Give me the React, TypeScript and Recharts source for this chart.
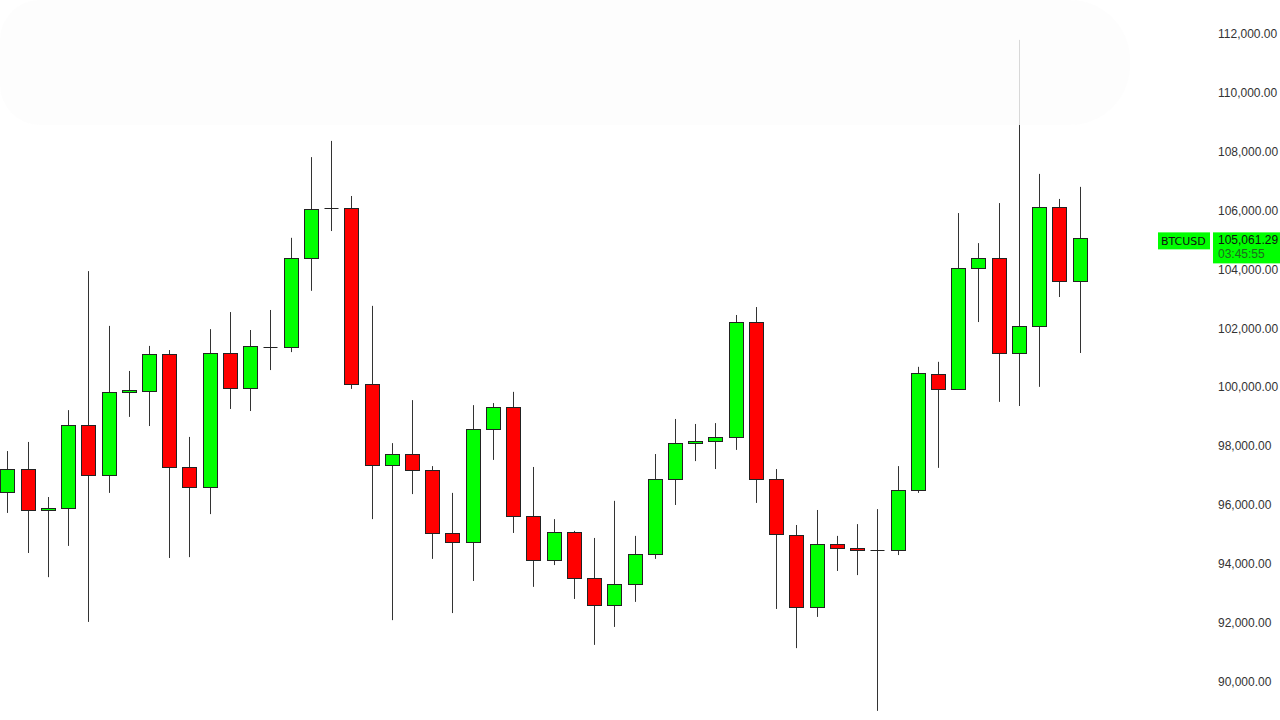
import { ComposedChart, Bar, XAxis, YAxis, ReferenceLine } from "recharts";

const bars = Array.from({ length: 54 }, (_, i) => i);

const opens = [
  96450, 97230, 95840, 95900, 98720, 97030, 99850, 99880, 101140, 97300,
  96620, 101170, 99980, 101380, 101370, 104400, 106080, 106090, 100120, 97370,
  97740, 97200, 95060, 94750, 98590, 99340, 95640, 94140, 95090, 93530,
  92610, 93330, 94350, 96890, 98110, 98180, 98320, 102220, 96890, 95000,
  92550, 94690, 94550, 94480, 94480, 96520, 100460, 99950, 104060, 104400,
  101170, 102090, 106130, 103610,
];
const highs = [
  97840, 98150, 96280, 99230, 103950, 102090, 100560, 101410, 101270, 98320,
  101980, 102560, 101950, 102630, 105080, 107820, 108370, 106500, 102770, 98110,
  99570, 97330, 96420, 99400, 99470, 99850, 97300, 95530, 95130, 94890,
  96150, 94960, 97740, 98930, 98760, 98790, 102460, 102730, 97230, 95330,
  95840, 94960, 95360, 95870, 97330, 100700, 100870, 105920, 104900, 106260,
  111800, 107250, 106400, 106810,
];
const lows = [
  95740, 94380, 93560, 94620, 92040, 96420, 99000, 98690, 94210, 94240,
  95700, 99270, 99200, 100590, 101200, 103280, 105310, 99950, 95530, 92100,
  96380, 94180, 92340, 93430, 97540, 95060, 93230, 93970, 92820, 91260,
  91870, 92720, 94180, 96010, 97500, 97230, 97880, 96080, 92480, 91150,
  92210, 93770, 93630, 89020, 94310, 96420, 97270, 99950, 102220, 99510,
  99370, 100020, 103070, 101170,
];
const closes = [
  97230, 95840, 95900, 98720, 97030, 99850, 99910, 101140, 97300, 96620,
  101170, 99980, 101410, 101380, 104400, 106060, 106080, 100120, 97370, 97740,
  97200, 95060, 94750, 98590, 99340, 95640, 94140, 95090, 93530, 92610,
  93330, 94350, 96890, 98110, 98180, 98320, 102220, 96890, 95030, 92550,
  94690, 94550, 94480, 94480, 96520, 100490, 99950, 104060, 104400, 101170,
  102090, 106130, 103610, 105061.29,
];

const priceTicks = [90000, 92000, 94000, 96000, 98000, 100000, 102000, 104000, 106000, 108000, 110000, 112000];
const symbol = "BTCUSD";
const lastPrice = 105061.29;
const countdown = "03:45:55";

const data = bars.map((i) => ({
  i,
  open: opens[i],
  high: highs[i],
  low: lows[i],
  close: closes[i],
  range: [lows[i], highs[i]],
}));

const fmt = (v: number) =>
  v.toLocaleString("en-US", { minimumFractionDigits: 2, maximumFractionDigits: 2 });

const Candle = (props: any) => {
  const { x, y, width, height, payload } = props;
  const { open, close, high, low } = payload;
  const top0 = height < 0 ? y + height : y;
  const h = Math.abs(height);
  const per = h / (high - low);
  const yOf = (v: number) => top0 + (high - v) * per;
  const cx = Math.round(x + width / 2) + 0.5;
  const bTop = yOf(Math.max(open, close));
  const bBot = yOf(Math.min(open, close));
  const up = close > open;
  return (
    <g>
      <line x1={cx} x2={cx} y1={yOf(high)} y2={yOf(low)} stroke="#333" strokeWidth={1} />
      {open === close ? (
        <line x1={cx - 7} x2={cx + 7} y1={Math.round(bTop) + 0.5} y2={Math.round(bTop) + 0.5} stroke="#222" strokeWidth={1} />
      ) : (
        <rect
          x={cx - 7}
          y={Math.round(bTop) + 0.5}
          width={14}
          height={Math.max(1, Math.round(bBot - bTop))}
          fill={up ? "#00ff00" : "#ff0000"}
          stroke="#222"
          strokeWidth={1}
        />
      )}
    </g>
  );
};

const PriceTick = (props: any) => {
  const { x, y, payload } = props;
  return (
    <text x={x} y={y} dy={4} textAnchor="start" fontFamily="Liberation Sans" fontSize={12} fill="#333">
      {fmt(payload.value)}
    </text>
  );
};

const PriceTag = (props: any) => {
  const { viewBox } = props;
  const right = viewBox.x + viewBox.width;
  const ly = viewBox.y;
  return (
    <g>
      <rect x={right - 42} y={ly - 6} width={52} height={17} fill="#00ff00" />
      <text x={right - 39} y={ly + 7} fontFamily="DejaVu Sans" fontSize={11} fill="#111">
        {symbol}
      </text>
      <rect x={right + 13} y={ly - 6} width={67} height={31} fill="#00ff00" />
      <text x={right + 18} y={ly + 6} fontFamily="Liberation Sans" fontSize={12} fill="#111">
        {fmt(lastPrice)}
      </text>
      <text x={right + 18} y={ly + 20} fontFamily="Liberation Sans" fontSize={12} fill="#1f6b1f">
        {countdown}
      </text>
    </g>
  );
};

export default function App() {
  return (
    <div style={{ position: "absolute", left: 0, top: 0, width: 1280, height: 720, background: "#fff" }}>
      <ComposedChart width={1280} height={720} data={data} margin={{ top: 0, right: 0, bottom: 0, left: 0 }}>
        <XAxis dataKey="i" type="number" domain={[-0.346, 58.97]} hide allowDataOverflow />
        <YAxis
          orientation="right"
          width={80}
          domain={[88710, 113154]}
          ticks={priceTicks}
          allowDataOverflow
          axisLine={false}
          tickLine={false}
          tickSize={6}
          tickMargin={12}
          tick={<PriceTick />}
          interval={0}
        />
        <Bar dataKey="range" barSize={15} shape={<Candle />} isAnimationActive={false} />
        <ReferenceLine y={lastPrice} stroke="none" label={<PriceTag />} />
      </ComposedChart>
      <div
        style={{
          position: "absolute",
          left: 0,
          top: 0,
          width: 1130,
          height: 125,
          borderRadius: "40px 60px 60px 40px",
          background: "rgba(252,252,252,0.82)",
          pointerEvents: "none",
        }}
      />
    </div>
  );
}
